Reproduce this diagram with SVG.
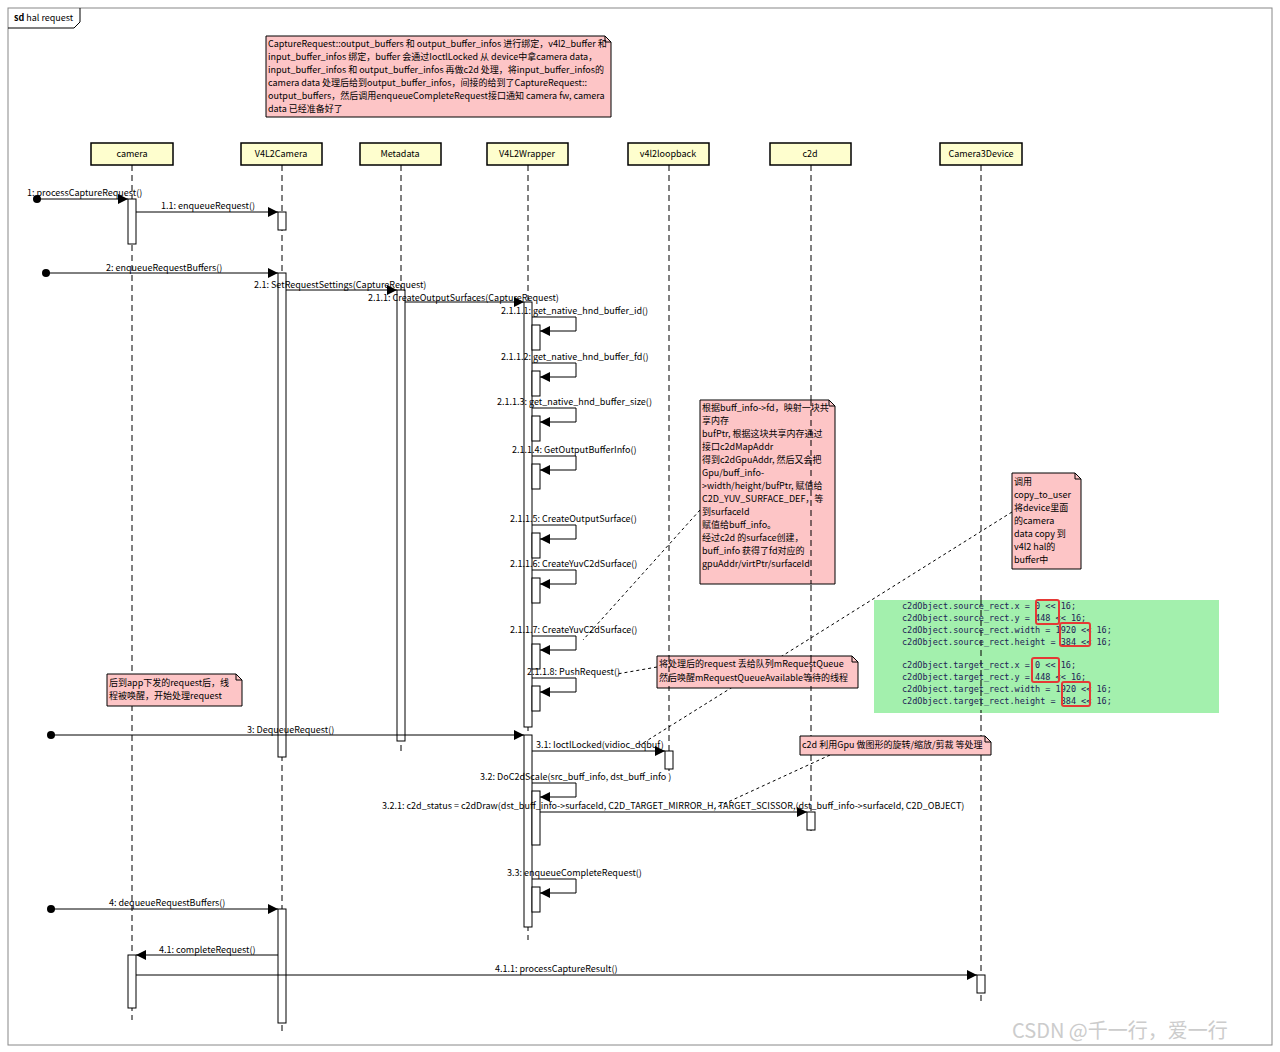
<svg xmlns="http://www.w3.org/2000/svg" width="1280" height="1052" viewBox="0 0 1280 1052">
<defs>
<marker id="ah" markerWidth="10" markerHeight="10" refX="10" refY="5" orient="auto" markerUnits="userSpaceOnUse"><path d="M0,0 L10,5 L0,10 Z" fill="#000"/></marker>
<style>
text{font-family:"Noto Sans CJK SC","Liberation Sans",sans-serif;font-size:9px;fill:#000}
.hd{fill:#fefece;stroke:#000;stroke-width:1.5}
.ll{stroke:#000;stroke-dasharray:6,4;fill:none}
.act{fill:#fff;stroke:#000}
.msg{stroke:#000;fill:none;marker-end:url(#ah)}
.note{fill:#fdc5c6;stroke:#000}
.nl{stroke:#000;stroke-dasharray:3,3;fill:none}
.code{font-family:"DejaVu Sans Mono",monospace;font-size:8.5px;fill:#225}
.red{fill:none;stroke:#e53935;stroke-width:2}
</style>
</defs>
<rect width="1280" height="1052" fill="#fff"/>
<rect x="8" y="8" width="1264" height="1037" fill="none" stroke="#888"/>
<path d="M8,28 H74 L80,22 V8" fill="none" stroke="#000"/>
<text x="14" y="21"><tspan font-weight="bold">sd</tspan> hal request</text>

<g id="lifelines">
<line class="ll" x1="132" y1="165" x2="132" y2="1020"/>
<line class="ll" x1="282" y1="165" x2="282" y2="1035"/>
<line class="ll" x1="401" y1="165" x2="401" y2="752"/>
<line class="ll" x1="528" y1="165" x2="528" y2="940"/>
<line class="ll" x1="669" y1="165" x2="669" y2="775"/>
<line class="ll" x1="811" y1="165" x2="811" y2="835"/>
<line class="ll" x1="981" y1="165" x2="981" y2="1005"/>
</g>
<g id="camera"><rect class="hd" x="91" y="143" width="82" height="22"/><text x="132" y="157" text-anchor="middle">camera</text></g>
<g id="V4L2Camera"><rect class="hd" x="241" y="143" width="81" height="22"/><text x="281" y="157" text-anchor="middle">V4L2Camera</text></g>
<g id="Metadata"><rect class="hd" x="360" y="143" width="81" height="22"/><text x="400" y="157" text-anchor="middle">Metadata</text></g>
<g id="V4L2Wrapper"><rect class="hd" x="487" y="143" width="81" height="22"/><text x="527" y="157" text-anchor="middle">V4L2Wrapper</text></g>
<g id="v4l2loopback"><rect class="hd" x="628" y="143" width="81" height="22"/><text x="668" y="157" text-anchor="middle">v4l2loopback</text></g>
<g id="c2d"><rect class="hd" x="770" y="143" width="81" height="22"/><text x="810" y="157" text-anchor="middle">c2d</text></g>
<g id="Camera3Device"><rect class="hd" x="940" y="143" width="82" height="22"/><text x="981" y="157" text-anchor="middle">Camera3Device</text></g>

<g id="activations">
<rect class="act" x="128" y="199" width="8" height="45"/>
<rect class="act" x="128" y="955" width="8" height="53"/>
<rect class="act" x="278" y="212" width="8" height="18"/>
<rect class="act" x="278" y="273" width="8" height="484"/>
<rect class="act" x="278" y="909" width="8" height="114"/>
<rect class="act" x="397" y="290" width="8" height="451"/>
<rect class="act" x="524" y="302" width="8" height="425"/>
<rect class="act" x="524" y="735" width="8" height="192"/>
<rect class="act" x="532" y="325" width="8" height="25"/>
<rect class="act" x="532" y="371" width="8" height="25"/>
<rect class="act" x="532" y="416" width="8" height="25"/>
<rect class="act" x="532" y="464" width="8" height="25"/>
<rect class="act" x="532" y="533" width="8" height="25"/>
<rect class="act" x="532" y="578" width="8" height="25"/>
<rect class="act" x="532" y="644" width="8" height="25"/>
<rect class="act" x="532" y="686" width="8" height="25"/>
<rect class="act" x="532" y="791" width="8" height="54"/>
<rect class="act" x="532" y="887" width="8" height="25"/>
<rect class="act" x="665" y="751" width="8" height="18"/>
<rect class="act" x="807" y="812" width="8" height="18"/>
<rect class="act" x="977" y="975" width="8" height="18"/>
</g>

<g id="connectors">
<circle cx="37" cy="199" r="4"/><line class="msg" x1="37" y1="199" x2="128" y2="199"/>
<text x="27" y="196">1: processCaptureRequest()</text>
<line class="msg" x1="136" y1="212" x2="278" y2="212"/><text x="161" y="209">1.1: enqueueRequest()</text>
<circle cx="46" cy="273" r="4"/><line class="msg" x1="46" y1="273" x2="278" y2="273"/>
<text x="106" y="271">2: enqueueRequestBuffers()</text>
<line class="msg" x1="286" y1="290" x2="397" y2="290"/><text x="254" y="288">2.1: SetRequestSettings(CaptureRequest)</text>
<line class="msg" x1="405" y1="302" x2="524" y2="302"/><text x="368" y="301">2.1.1: CreateOutputSurfaces(CaptureRequest)</text>
<path class="msg" d="M532,317 H576 V331 H540"/><text x="501" y="314">2.1.1.1: get_native_hnd_buffer_id()</text>
<path class="msg" d="M532,363 H576 V377 H540"/><text x="501" y="360">2.1.1.2: get_native_hnd_buffer_fd()</text>
<path class="msg" d="M532,408 H576 V422 H540"/><text x="497" y="405">2.1.1.3: get_native_hnd_buffer_size()</text>
<path class="msg" d="M532,456 H576 V470 H540"/><text x="512" y="453">2.1.1.4: GetOutputBufferInfo()</text>
<path class="msg" d="M532,525 H576 V539 H540"/><text x="510" y="522">2.1.1.5: CreateOutputSurface()</text>
<path class="msg" d="M532,570 H576 V584 H540"/><text x="510" y="567">2.1.1.6: CreateYuvC2dSurface()</text>
<path class="msg" d="M532,636 H576 V650 H540"/><text x="510" y="633">2.1.1.7: CreateYuvC2dSurface()</text>
<path class="msg" d="M532,678 H576 V692 H540"/><text x="527" y="675">2.1.1.8: PushRequest()</text>
<circle cx="51" cy="735" r="4"/><line class="msg" x1="51" y1="735" x2="524" y2="735"/>
<text x="247" y="733">3: DequeueRequest()</text>
<line class="msg" x1="532" y1="751" x2="665" y2="751"/><text x="536" y="748">3.1: IoctlLocked(vidioc_dqbuf)</text>
<path class="msg" d="M532,783 H576 V797 H540"/><text x="480" y="780">3.2: DoC2dScale(src_buff_info, dst_buff_info )</text>
<line class="msg" x1="540" y1="812" x2="807" y2="812"/><text x="382" y="809">3.2.1: c2d_status = c2dDraw(dst_buff_info-&gt;surfaceId, C2D_TARGET_MIRROR_H, TARGET_SCISSOR,(dst_buff_info-&gt;surfaceId, C2D_OBJECT)</text>
<path class="msg" d="M532,879 H576 V893 H540"/><text x="507" y="876">3.3: enqueueCompleteRequest()</text>
<circle cx="51" cy="909" r="4"/><line class="msg" x1="51" y1="909" x2="278" y2="909"/>
<text x="109" y="906">4: dequeueRequestBuffers()</text>
<line class="msg" x1="278" y1="955" x2="136" y2="955"/><text x="159" y="953">4.1: completeRequest()</text>
<line class="msg" x1="136" y1="975" x2="977" y2="975"/><text x="495" y="972">4.1.1: processCaptureResult()</text>
<line class="nl" x1="700" y1="510" x2="583" y2="640"/>
<line class="nl" x1="1012" y1="512" x2="640" y2="745"/>
<line class="nl" x1="657" y1="667" x2="617" y2="674"/>
<line class="nl" x1="830" y1="755" x2="715" y2="808"/>
</g>

<g id="note-top">
<path class="note" d="M266,36 H605 L611,42 V117 H266 Z"/><path d="M605,36 V42 H611" fill="none" stroke="#000"/>
<text x="268" y="47">CaptureRequest::output_buffers 和 output_buffer_infos 进行绑定，v4l2_buffer 和</text>
<text x="268" y="60">input_buffer_infos 绑定，buffer 会通过IoctlLocked 从 device中拿camera data，</text>
<text x="268" y="73">input_buffer_infos 和 output_buffer_infos 再做c2d 处理，将input_buffer_infos的</text>
<text x="268" y="86">camera data 处理后给到output_buffer_infos，间接的给到了CaptureRequest::</text>
<text x="268" y="99">output_buffers，然后调用enqueueCompleteRequest接口通知 camera fw, camera</text>
<text x="268" y="112">data 已经准备好了</text>
</g>
<g id="note-surface">
<path class="note" d="M700,400 H829 L835,406 V584 H700 Z"/><path d="M829,400 V406 H835" fill="none" stroke="#000"/>
<line class="ll" x1="811" y1="400" x2="811" y2="584"/>
<text x="702" y="411">根据buff_info-&gt;fd，映射一块共</text>
<text x="702" y="424">享内存</text>
<text x="702" y="437"> bufPtr, 根据这块共享内存通过</text>
<text x="702" y="450">接口c2dMapAddr</text>
<text x="702" y="463">得到c2dGpuAddr, 然后又会把</text>
<text x="702" y="476">Gpu/buff_info-</text>
<text x="702" y="489">&gt;width/height/bufPtr, 赋值给</text>
<text x="702" y="502">C2D_YUV_SURFACE_DEF，等</text>
<text x="702" y="515">到surfaceId</text>
<text x="702" y="528">赋值给buff_info。</text>
<text x="702" y="541">经过c2d 的surface创建，</text>
<text x="702" y="554">buff_info 获得了fd对应的</text>
<text x="702" y="567">gpuAddr/virtPtr/surfaceId</text>
</g>
<g id="note-copy">
<path class="note" d="M1012,473 H1075 L1081,479 V569 H1012 Z"/><path d="M1075,473 V479 H1081" fill="none" stroke="#000"/>
<text x="1014" y="485">调用</text>
<text x="1014" y="498">copy_to_user</text>
<text x="1014" y="511">将device里面</text>
<text x="1014" y="524">的camera</text>
<text x="1014" y="537">data copy 到</text>
<text x="1014" y="550">v4l2 hal的</text>
<text x="1014" y="563">buffer中</text>
</g>
<g id="code-box">
<rect x="874" y="600" width="345" height="113" fill="#a3f0ad"/>
<line class="ll" x1="981" y1="600" x2="981" y2="713"/>
<text class="code" x="902" y="609">c2dObject.source_rect.x = 0 &lt;&lt; 16;</text>
<text class="code" x="902" y="621">c2dObject.source_rect.y = 448 &lt;&lt; 16;</text>
<text class="code" x="902" y="633">c2dObject.source_rect.width = 1920 &lt;&lt; 16;</text>
<text class="code" x="902" y="645">c2dObject.source_rect.height = 384 &lt;&lt; 16;</text>
<text class="code" x="902" y="668">c2dObject.target_rect.x = 0 &lt;&lt; 16;</text>
<text class="code" x="902" y="680">c2dObject.target_rect.y = 448 &lt;&lt; 16;</text>
<text class="code" x="902" y="692">c2dObject.target_rect.width = 1920 &lt;&lt; 16;</text>
<text class="code" x="902" y="704">c2dObject.target_rect.height = 384 &lt;&lt; 16;</text>
<rect class="red" x="1036" y="600" width="23" height="24" rx="2"/>
<rect class="red" x="1060" y="623" width="30" height="23" rx="2"/>
<rect class="red" x="1032" y="658" width="27" height="24" rx="2"/>
<rect class="red" x="1062" y="682" width="28" height="24" rx="2"/>
</g>
<g id="note-push">
<path class="note" d="M657,656 H852 L858,662 V688 H657 Z"/><path d="M852,656 V662 H858" fill="none" stroke="#000"/>
<line class="ll" x1="669" y1="656" x2="669" y2="688"/><line class="ll" x1="811" y1="656" x2="811" y2="688"/>
<text x="659" y="667">将处理后的request 丢给队列mRequestQueue</text>
<text x="659" y="681">然后唤醒mRequestQueueAvailable等待的线程</text>
</g>
<g id="note-c2d">
<path class="note" d="M800,736 H985 L991,742 V755 H800 Z"/><path d="M985,736 V742 H991" fill="none" stroke="#000"/>
<text x="802" y="748">c2d 利用Gpu 做图形的旋转/缩放/剪裁 等处理</text>
</g>
<g id="note-app">
<path class="note" d="M107,674 H236 L242,680 V706 H107 Z"/><path d="M236,674 V680 H242" fill="none" stroke="#000"/>
<text x="109" y="686">后到app下发的request后，线</text>
<text x="109" y="699">程被唤醒，开始处理request</text>
</g>
<text x="1012" y="1038" style="font-size:20px;fill:#ccc">CSDN @千一行，爱一行</text>
</svg>
